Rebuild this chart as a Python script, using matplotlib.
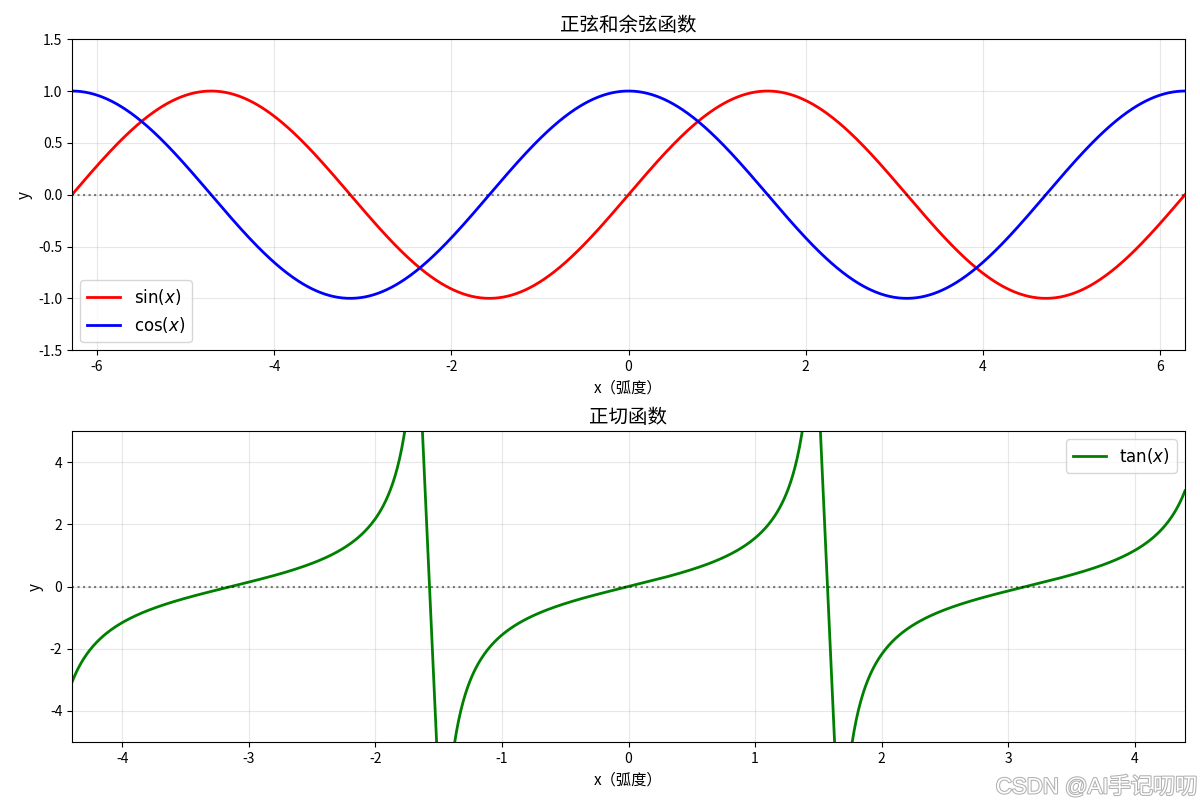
import matplotlib
matplotlib.use("Agg")
import matplotlib.pyplot as plt
import matplotlib.patheffects as pe
import numpy as np

plt.rcParams["font.family"] = ["Noto Sans CJK SC", "DejaVu Sans"]
plt.rcParams["axes.unicode_minus"] = False

# sampling ranges of the two panels
trig_range = (-2 * np.pi, 2 * np.pi)
tan_range = (-1.4 * np.pi, 1.4 * np.pi)
n_points = 1000
tan_cutoff = 10  # points with |tan| above this are dropped before plotting

trig_ylim = (-1.5, 1.5)
tan_ylim = (-5, 5)

titles = ["正弦和余弦函数", "正切函数"]
xlabel = "x（弧度）"
ylabel = "y"
watermark = "CSDN @AI手记叨叨"

x1 = np.linspace(*trig_range, n_points)
x2 = np.linspace(*tan_range, n_points)
y_tan = np.tan(x2)
keep = np.abs(y_tan) < tan_cutoff

fig, (ax1, ax2) = plt.subplots(2, 1, figsize=(12, 8))

ax1.plot(x1, np.sin(x1), color="red", linewidth=2, label=r"$\sin(x)$")
ax1.plot(x1, np.cos(x1), color="blue", linewidth=2, label=r"$\cos(x)$")
ax1.axhline(0, color="black", linestyle=":", alpha=0.5)
ax1.set_xlim(*trig_range)
ax1.set_ylim(*trig_ylim)
ax1.set_title(titles[0], fontsize=14)
ax1.set_xlabel(xlabel, fontsize=11)
ax1.set_ylabel(ylabel, fontsize=11)
ax1.grid(True, alpha=0.3)
ax1.legend(loc="lower left", fontsize=12)

ax2.plot(x2[keep], y_tan[keep], color="green", linewidth=2, label=r"$\tan(x)$")
ax2.axhline(0, color="black", linestyle=":", alpha=0.5)
ax2.set_xlim(*tan_range)
ax2.set_ylim(*tan_ylim)
ax2.set_title(titles[1], fontsize=14)
ax2.set_xlabel(xlabel, fontsize=11)
ax2.set_ylabel(ylabel, fontsize=11)
ax2.grid(True, alpha=0.3)
ax2.legend(loc="upper right", fontsize=12)

fig.subplots_adjust(left=0.06, right=0.9875, top=0.951, bottom=0.0725, hspace=0.26)

fig.text(0.998, 0.002, watermark, ha="right", va="bottom", fontsize=16,
         color="white", family=["Liberation Sans", "Noto Sans CJK SC"],
         path_effects=[pe.withStroke(linewidth=1.5, foreground="#b0b0b0")])

fig.savefig("out.png", dpi=100)
plt.close(fig)
